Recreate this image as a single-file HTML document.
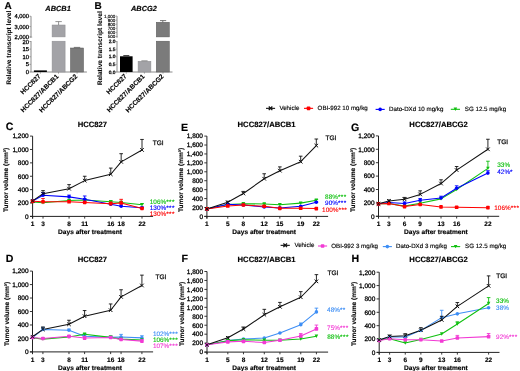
<!DOCTYPE html>
<html><head><meta charset="utf-8"><title>Figure</title>
<style>
html,body{margin:0;padding:0;background:#fff;}
body{width:520px;height:371px;overflow:hidden;}
svg{display:block;font-family:'Liberation Sans', Arial, sans-serif;text-rendering:geometricPrecision;}
</style></head>
<body>
<svg width="520" height="371" viewBox="0 0 520 371">
<rect width="520" height="371" fill="#fff"/>
<text x="4.4" y="8.7" font-size="10" font-weight="bold" stroke="#000" stroke-width="0.15" fill="#000">A</text>
<text x="45.3" y="10.6" font-size="7.4" font-weight="bold" stroke="#000" stroke-width="0.15" font-style="italic" fill="#000">ABCB1</text>
<text transform="translate(11.0 47.8) rotate(-90)" font-size="6.6" font-weight="bold" stroke="#000" stroke-width="0.05" text-anchor="middle" fill="#000">Relative transcript level</text>
<line x1="31" y1="16.2" x2="31" y2="37.3" stroke="#8a8a8a" stroke-width="1"/>
<line x1="29.8" y1="37.1" x2="32.2" y2="37.1" stroke="#8a8a8a" stroke-width="0.8"/>
<line x1="31" y1="41" x2="31" y2="72" stroke="#8a8a8a" stroke-width="1"/>
<line x1="29.4" y1="16.25" x2="31" y2="16.25" stroke="#8a8a8a" stroke-width="0.8"/>
<text x="29" y="18.35" font-size="5.8" stroke="#000" stroke-width="0.28" text-anchor="end" fill="#000">4,000</text>
<line x1="29.4" y1="26.6" x2="31" y2="26.6" stroke="#8a8a8a" stroke-width="0.8"/>
<text x="29" y="28.7" font-size="5.8" stroke="#000" stroke-width="0.28" text-anchor="end" fill="#000">3,000</text>
<line x1="29.4" y1="36.9" x2="31" y2="36.9" stroke="#8a8a8a" stroke-width="0.8"/>
<text x="29" y="39" font-size="5.8" stroke="#000" stroke-width="0.28" text-anchor="end" fill="#000">2,000</text>
<line x1="29.4" y1="41.5" x2="31" y2="41.5" stroke="#8a8a8a" stroke-width="0.8"/>
<text x="29" y="43.6" font-size="5.8" stroke="#000" stroke-width="0.28" text-anchor="end" fill="#000">20</text>
<line x1="29.4" y1="49.12" x2="31" y2="49.12" stroke="#8a8a8a" stroke-width="0.8"/>
<text x="29" y="51.23" font-size="5.8" stroke="#000" stroke-width="0.28" text-anchor="end" fill="#000">15</text>
<line x1="29.4" y1="56.75" x2="31" y2="56.75" stroke="#8a8a8a" stroke-width="0.8"/>
<text x="29" y="58.85" font-size="5.8" stroke="#000" stroke-width="0.28" text-anchor="end" fill="#000">10</text>
<line x1="29.4" y1="64.38" x2="31" y2="64.38" stroke="#8a8a8a" stroke-width="0.8"/>
<text x="29" y="66.47" font-size="5.8" stroke="#000" stroke-width="0.28" text-anchor="end" fill="#000">5</text>
<line x1="29.4" y1="72" x2="31" y2="72" stroke="#8a8a8a" stroke-width="0.8"/>
<text x="29" y="74.1" font-size="5.8" stroke="#000" stroke-width="0.28" text-anchor="end" fill="#000">0</text>
<line x1="30.5" y1="72" x2="86.9" y2="72" stroke="#8a8a8a" stroke-width="1"/>
<line x1="40.4" y1="72" x2="40.4" y2="73.6" stroke="#8a8a8a" stroke-width="0.8"/>
<line x1="58.5" y1="72" x2="58.5" y2="73.6" stroke="#8a8a8a" stroke-width="0.8"/>
<line x1="77.1" y1="72" x2="77.1" y2="73.6" stroke="#8a8a8a" stroke-width="0.8"/>
<rect x="33.9" y="70.4" width="13" height="1.6" fill="#000"/>
<rect x="52.1" y="41.2" width="13" height="30.8" fill="#a3a3a7" stroke="#8c8c90" stroke-width="0.5"/>
<rect x="52.1" y="25" width="13" height="11.9" fill="#a3a3a7" stroke="#8c8c90" stroke-width="0.5"/>
<line x1="58.6" y1="25" x2="58.6" y2="21.6" stroke="#777" stroke-width="0.8"/>
<line x1="55.4" y1="21.6" x2="61.8" y2="21.6" stroke="#777" stroke-width="0.8"/>
<rect x="70.5" y="48" width="13" height="24" fill="#7b7b7b" stroke="#555" stroke-width="0.5"/>
<line x1="73.8" y1="47.4" x2="80.2" y2="47.4" stroke="#555" stroke-width="0.8"/>
<text transform="translate(41.2 76.7) rotate(-45)" font-size="6.7" font-weight="bold" stroke="#000" stroke-width="0.12" text-anchor="end" fill="#000">HCC827</text>
<text transform="translate(59.1 76.9) rotate(-45)" font-size="6.7" font-weight="bold" stroke="#000" stroke-width="0.12" text-anchor="end" fill="#000">HCC827/ABCB1</text>
<text transform="translate(77.8 76.9) rotate(-45)" font-size="6.7" font-weight="bold" stroke="#000" stroke-width="0.12" text-anchor="end" fill="#000">HCC827/ABCG2</text>
<text x="94.6" y="8.7" font-size="10" font-weight="bold" stroke="#000" stroke-width="0.15" fill="#000">B</text>
<text x="131" y="10.6" font-size="7.4" font-weight="bold" stroke="#000" stroke-width="0.15" font-style="italic" fill="#000">ABCG2</text>
<text transform="translate(101.8 48.3) rotate(-90)" font-size="6.6" font-weight="bold" stroke="#000" stroke-width="0.05" text-anchor="middle" fill="#000">Relative transcript level</text>
<line x1="117" y1="16" x2="117" y2="37" stroke="#8a8a8a" stroke-width="1"/>
<line x1="116" y1="37" x2="118" y2="37" stroke="#8a8a8a" stroke-width="0.8"/>
<line x1="117" y1="41" x2="117" y2="72" stroke="#8a8a8a" stroke-width="1"/>
<line x1="115.7" y1="16" x2="117" y2="16" stroke="#8a8a8a" stroke-width="0.7"/>
<text x="115.3" y="17.6" font-size="4.5" stroke="#000" stroke-width="0.14" text-anchor="end" fill="#000">1,000</text>
<line x1="115.7" y1="20.12" x2="117" y2="20.12" stroke="#8a8a8a" stroke-width="0.7"/>
<text x="115.3" y="21.72" font-size="4.5" stroke="#000" stroke-width="0.14" text-anchor="end" fill="#000">900</text>
<line x1="115.7" y1="24.24" x2="117" y2="24.24" stroke="#8a8a8a" stroke-width="0.7"/>
<text x="115.3" y="25.84" font-size="4.5" stroke="#000" stroke-width="0.14" text-anchor="end" fill="#000">800</text>
<line x1="115.7" y1="28.36" x2="117" y2="28.36" stroke="#8a8a8a" stroke-width="0.7"/>
<text x="115.3" y="29.96" font-size="4.5" stroke="#000" stroke-width="0.14" text-anchor="end" fill="#000">700</text>
<line x1="115.7" y1="32.48" x2="117" y2="32.48" stroke="#8a8a8a" stroke-width="0.7"/>
<text x="115.3" y="34.08" font-size="4.5" stroke="#000" stroke-width="0.14" text-anchor="end" fill="#000">600</text>
<line x1="115.7" y1="36.6" x2="117" y2="36.6" stroke="#8a8a8a" stroke-width="0.7"/>
<text x="115.3" y="38.2" font-size="4.5" stroke="#000" stroke-width="0.14" text-anchor="end" fill="#000">500</text>
<line x1="115.7" y1="41.5" x2="117" y2="41.5" stroke="#8a8a8a" stroke-width="0.7"/>
<text x="115.3" y="43.2" font-size="4.8" stroke="#000" stroke-width="0.28" text-anchor="end" fill="#000">2.0</text>
<line x1="115.7" y1="49.12" x2="117" y2="49.12" stroke="#8a8a8a" stroke-width="0.7"/>
<text x="115.3" y="50.83" font-size="4.8" stroke="#000" stroke-width="0.28" text-anchor="end" fill="#000">1.5</text>
<line x1="115.7" y1="56.75" x2="117" y2="56.75" stroke="#8a8a8a" stroke-width="0.7"/>
<text x="115.3" y="58.45" font-size="4.8" stroke="#000" stroke-width="0.28" text-anchor="end" fill="#000">1.0</text>
<line x1="115.7" y1="64.38" x2="117" y2="64.38" stroke="#8a8a8a" stroke-width="0.7"/>
<text x="115.3" y="66.08" font-size="4.8" stroke="#000" stroke-width="0.28" text-anchor="end" fill="#000">0.5</text>
<line x1="115.7" y1="72" x2="117" y2="72" stroke="#8a8a8a" stroke-width="0.7"/>
<text x="115.3" y="73.7" font-size="4.8" stroke="#000" stroke-width="0.28" text-anchor="end" fill="#000">0.0</text>
<line x1="116.5" y1="72" x2="172.5" y2="72" stroke="#8a8a8a" stroke-width="1"/>
<line x1="126.3" y1="72" x2="126.3" y2="73.6" stroke="#8a8a8a" stroke-width="0.8"/>
<line x1="144.4" y1="72" x2="144.4" y2="73.6" stroke="#8a8a8a" stroke-width="0.8"/>
<line x1="163" y1="72" x2="163" y2="73.6" stroke="#8a8a8a" stroke-width="0.8"/>
<rect x="120" y="56.3" width="12.6" height="15.7" fill="#000"/>
<line x1="123.3" y1="55.6" x2="129.3" y2="55.6" stroke="#000" stroke-width="0.8"/>
<rect x="138.1" y="61.3" width="12.8" height="10.7" fill="#a3a3a7" stroke="#8c8c90" stroke-width="0.5"/>
<line x1="141.4" y1="60.8" x2="147.6" y2="60.8" stroke="#777" stroke-width="0.8"/>
<rect x="156.3" y="41.2" width="13" height="30.8" fill="#7b7b7b" stroke="#555" stroke-width="0.5"/>
<rect x="156.3" y="22.3" width="13" height="14.6" fill="#7b7b7b" stroke="#555" stroke-width="0.5"/>
<line x1="162.8" y1="22.3" x2="162.8" y2="20.6" stroke="#555" stroke-width="0.8"/>
<line x1="160" y1="20.6" x2="166.2" y2="20.6" stroke="#555" stroke-width="0.8"/>
<text transform="translate(127.2 76.7) rotate(-45)" font-size="6.7" font-weight="bold" stroke="#000" stroke-width="0.12" text-anchor="end" fill="#000">HCC827</text>
<text transform="translate(145.2 76.9) rotate(-45)" font-size="6.7" font-weight="bold" stroke="#000" stroke-width="0.12" text-anchor="end" fill="#000">HCC827/ABCB1</text>
<text transform="translate(164.2 76.9) rotate(-45)" font-size="6.7" font-weight="bold" stroke="#000" stroke-width="0.12" text-anchor="end" fill="#000">HCC827/ABCG2</text>
<line x1="266" y1="108.35" x2="275.1" y2="108.35" stroke="#111" stroke-width="1.1"/>
<path d="M268.75 106.55L272.35 110.15M268.75 110.15L272.35 106.55" stroke="#111" stroke-width="1.3" fill="none"/>
<text x="279.4" y="110.3" font-size="6.2" stroke="#000" stroke-width="0.14" fill="#000">Vehicle</text>
<line x1="304" y1="108.35" x2="313.1" y2="108.35" stroke="#ff0000" stroke-width="1.1"/>
<rect x="306.75" y="106.55" width="3.6" height="3.6" rx="0.7" fill="#ff0000"/>
<text x="317.6" y="110.3" font-size="6.2" stroke="#000" stroke-width="0.14" fill="#000">OBI-992 10 mg/kg</text>
<line x1="375.6" y1="109.4" x2="384.7" y2="109.4" stroke="#0000ff" stroke-width="1.1"/>
<circle cx="380.15" cy="109.4" r="1.8" fill="#0000ff"/>
<text x="389" y="111.3" font-size="6.2" stroke="#000" stroke-width="0.14" fill="#000">Dato-DXd 10 mg/kg</text>
<line x1="450.8" y1="109.3" x2="460" y2="109.3" stroke="#10c010" stroke-width="1.1"/>
<path d="M453.6 107.6L457.2 107.6L455.4 111Z" fill="#10c010"/>
<text x="464.8" y="111.3" font-size="6.2" stroke="#000" stroke-width="0.14" fill="#000">SG 12.5 mg/kg</text>
<line x1="280.6" y1="245.35" x2="289.8" y2="245.35" stroke="#111" stroke-width="1.1"/>
<path d="M283.4 243.55L287 247.15M283.4 247.15L287 243.55" stroke="#111" stroke-width="1.3" fill="none"/>
<text x="294.4" y="247.2" font-size="6.2" stroke="#000" stroke-width="0.14" fill="#000">Vehicle</text>
<line x1="318" y1="246" x2="327.1" y2="246" stroke="#f23ad4" stroke-width="1.1"/>
<rect x="320.75" y="244.2" width="3.6" height="3.6" rx="0.7" fill="#f23ad4"/>
<text x="331.2" y="247.8" font-size="6.2" stroke="#000" stroke-width="0.14" fill="#000">OBI-992 3 mg/kg</text>
<line x1="382.8" y1="246.6" x2="391.9" y2="246.6" stroke="#3d8ef5" stroke-width="1.1"/>
<circle cx="387.35" cy="246.6" r="1.8" fill="#3d8ef5"/>
<text x="396" y="248.3" font-size="6.2" stroke="#000" stroke-width="0.14" fill="#000">Dato-DXd 3 mg/kg</text>
<line x1="451" y1="246.6" x2="460.2" y2="246.6" stroke="#10c010" stroke-width="1.1"/>
<path d="M453.8 244.9L457.4 244.9L455.6 248.3Z" fill="#10c010"/>
<text x="465" y="248.3" font-size="6.2" stroke="#000" stroke-width="0.14" fill="#000">SG 12.5 mg/kg</text>
<line x1="32.6" y1="136.1" x2="32.6" y2="218.6" stroke="#222" stroke-width="1"/>
<line x1="30" y1="216.4" x2="153.1" y2="216.4" stroke="#222" stroke-width="1"/>
<line x1="30" y1="216.4" x2="32.6" y2="216.4" stroke="#222" stroke-width="0.9"/>
<text x="28.7" y="218.7" font-size="6.5" stroke="#000" stroke-width="0.28" text-anchor="end" fill="#000">0</text>
<line x1="30" y1="203.02" x2="32.6" y2="203.02" stroke="#222" stroke-width="0.9"/>
<text x="28.7" y="205.32" font-size="6.5" stroke="#000" stroke-width="0.28" text-anchor="end" fill="#000">200</text>
<line x1="30" y1="189.63" x2="32.6" y2="189.63" stroke="#222" stroke-width="0.9"/>
<text x="28.7" y="191.93" font-size="6.5" stroke="#000" stroke-width="0.28" text-anchor="end" fill="#000">400</text>
<line x1="30" y1="176.25" x2="32.6" y2="176.25" stroke="#222" stroke-width="0.9"/>
<text x="28.7" y="178.55" font-size="6.5" stroke="#000" stroke-width="0.28" text-anchor="end" fill="#000">600</text>
<line x1="30" y1="162.87" x2="32.6" y2="162.87" stroke="#222" stroke-width="0.9"/>
<text x="28.7" y="165.17" font-size="6.5" stroke="#000" stroke-width="0.28" text-anchor="end" fill="#000">800</text>
<line x1="30" y1="149.48" x2="32.6" y2="149.48" stroke="#222" stroke-width="0.9"/>
<text x="28.7" y="151.78" font-size="6.5" stroke="#000" stroke-width="0.28" text-anchor="end" fill="#000">1,000</text>
<line x1="30" y1="136.1" x2="32.6" y2="136.1" stroke="#222" stroke-width="0.9"/>
<text x="28.7" y="138.4" font-size="6.5" stroke="#000" stroke-width="0.28" text-anchor="end" fill="#000">1,200</text>
<line x1="32.6" y1="216.4" x2="32.6" y2="218.6" stroke="#222" stroke-width="0.9"/>
<text x="32.6" y="226.4" font-size="6.5" font-weight="bold" stroke="#000" stroke-width="0.15" text-anchor="middle" fill="#000">1</text>
<line x1="43.02" y1="216.4" x2="43.02" y2="218.6" stroke="#222" stroke-width="0.9"/>
<text x="43.02" y="226.4" font-size="6.5" font-weight="bold" stroke="#000" stroke-width="0.15" text-anchor="middle" fill="#000">3</text>
<line x1="69.07" y1="216.4" x2="69.07" y2="218.6" stroke="#222" stroke-width="0.9"/>
<text x="69.07" y="226.4" font-size="6.5" font-weight="bold" stroke="#000" stroke-width="0.15" text-anchor="middle" fill="#000">8</text>
<line x1="84.7" y1="216.4" x2="84.7" y2="218.6" stroke="#222" stroke-width="0.9"/>
<text x="84.7" y="226.4" font-size="6.5" font-weight="bold" stroke="#000" stroke-width="0.15" text-anchor="middle" fill="#000">11</text>
<line x1="110.75" y1="216.4" x2="110.75" y2="218.6" stroke="#222" stroke-width="0.9"/>
<text x="110.75" y="226.4" font-size="6.5" font-weight="bold" stroke="#000" stroke-width="0.15" text-anchor="middle" fill="#000">16</text>
<line x1="121.17" y1="216.4" x2="121.17" y2="218.6" stroke="#222" stroke-width="0.9"/>
<text x="121.17" y="226.4" font-size="6.5" font-weight="bold" stroke="#000" stroke-width="0.15" text-anchor="middle" fill="#000">18</text>
<line x1="142.01" y1="216.4" x2="142.01" y2="218.6" stroke="#222" stroke-width="0.9"/>
<text x="142.01" y="226.4" font-size="6.5" font-weight="bold" stroke="#000" stroke-width="0.15" text-anchor="middle" fill="#000">22</text>
<text x="58.1" y="234" font-size="6.6" font-weight="bold" stroke="#000" stroke-width="0.15" fill="#000">Days after treatment</text>
<text transform="translate(8 180) rotate(-90)" font-size="6.5" font-weight="bold" stroke="#000" stroke-width="0.15" text-anchor="middle" fill="#000">Tumor volume (mm³)</text>
<text x="92.4" y="126.8" font-size="7.7" font-weight="bold" stroke="#000" stroke-width="0.15" text-anchor="middle" fill="#000">HCC827</text>
<text x="5.8" y="130.1" font-size="10.6" font-weight="bold" stroke="#000" stroke-width="0.15" fill="#000">C</text>
<text x="152.8" y="145.3" font-size="6.5" stroke="#111" stroke-width="0.28" fill="#111">TGI</text>
<polyline points="32.6,202.01 43.02,202.68 69.07,200.54 84.7,199.94 110.75,201.81 121.17,202.41 142.01,204.69" fill="none" stroke="#10c010" stroke-width="1.05" stroke-linejoin="round"/>
<polyline points="32.6,201.01 43.02,195.19 69.07,196.86 84.7,199.34 110.75,204.29 121.17,206.16 142.01,207.83" fill="none" stroke="#0000ff" stroke-width="1.05" stroke-linejoin="round"/>
<polyline points="32.6,201.34 43.02,201.81 69.07,201.81 84.7,202.48 110.75,203.69 121.17,203.02 142.01,208.44" fill="none" stroke="#ff0000" stroke-width="1.05" stroke-linejoin="round"/>
<polyline points="32.6,200.88 43.02,193.65 69.07,188.7 84.7,180.6 110.75,174.24 121.17,161.86 142.01,149.95" fill="none" stroke="#111" stroke-width="1.05" stroke-linejoin="round"/>
<path d="M30.8 200.31L34.4 200.31L32.6 203.71Z" fill="#10c010"/>
<path d="M41.22 200.98L44.82 200.98L43.02 204.38Z" fill="#10c010"/>
<line x1="69.07" y1="200.54" x2="69.07" y2="199.67" stroke="#10c010" stroke-width="0.9"/>
<line x1="67.27" y1="199.67" x2="70.87" y2="199.67" stroke="#10c010" stroke-width="0.9"/>
<path d="M67.27 198.84L70.87 198.84L69.07 202.24Z" fill="#10c010"/>
<line x1="84.7" y1="199.94" x2="84.7" y2="198.87" stroke="#10c010" stroke-width="0.9"/>
<line x1="82.9" y1="198.87" x2="86.5" y2="198.87" stroke="#10c010" stroke-width="0.9"/>
<path d="M82.9 198.24L86.5 198.24L84.7 201.64Z" fill="#10c010"/>
<line x1="110.75" y1="201.81" x2="110.75" y2="200.67" stroke="#10c010" stroke-width="0.9"/>
<line x1="108.95" y1="200.67" x2="112.55" y2="200.67" stroke="#10c010" stroke-width="0.9"/>
<path d="M108.95 200.11L112.55 200.11L110.75 203.51Z" fill="#10c010"/>
<line x1="121.17" y1="202.41" x2="121.17" y2="201.54" stroke="#10c010" stroke-width="0.9"/>
<line x1="119.37" y1="201.54" x2="122.97" y2="201.54" stroke="#10c010" stroke-width="0.9"/>
<path d="M119.37 200.71L122.97 200.71L121.17 204.11Z" fill="#10c010"/>
<line x1="142.01" y1="204.69" x2="142.01" y2="203.69" stroke="#10c010" stroke-width="0.9"/>
<line x1="140.21" y1="203.69" x2="143.81" y2="203.69" stroke="#10c010" stroke-width="0.9"/>
<path d="M140.21 202.99L143.81 202.99L142.01 206.39Z" fill="#10c010"/>
<circle cx="32.6" cy="201.01" r="1.8" fill="#0000ff"/>
<line x1="43.02" y1="195.19" x2="43.02" y2="192.64" stroke="#0000ff" stroke-width="0.9"/>
<line x1="41.22" y1="192.64" x2="44.82" y2="192.64" stroke="#0000ff" stroke-width="0.9"/>
<circle cx="43.02" cy="195.19" r="1.8" fill="#0000ff"/>
<line x1="69.07" y1="196.86" x2="69.07" y2="195.12" stroke="#0000ff" stroke-width="0.9"/>
<line x1="67.27" y1="195.12" x2="70.87" y2="195.12" stroke="#0000ff" stroke-width="0.9"/>
<circle cx="69.07" cy="196.86" r="1.8" fill="#0000ff"/>
<line x1="84.7" y1="199.34" x2="84.7" y2="195.99" stroke="#0000ff" stroke-width="0.9"/>
<line x1="82.9" y1="195.99" x2="86.5" y2="195.99" stroke="#0000ff" stroke-width="0.9"/>
<circle cx="84.7" cy="199.34" r="1.8" fill="#0000ff"/>
<line x1="110.75" y1="204.29" x2="110.75" y2="203.02" stroke="#0000ff" stroke-width="0.9"/>
<line x1="108.95" y1="203.02" x2="112.55" y2="203.02" stroke="#0000ff" stroke-width="0.9"/>
<circle cx="110.75" cy="204.29" r="1.8" fill="#0000ff"/>
<line x1="121.17" y1="206.16" x2="121.17" y2="205.02" stroke="#0000ff" stroke-width="0.9"/>
<line x1="119.37" y1="205.02" x2="122.97" y2="205.02" stroke="#0000ff" stroke-width="0.9"/>
<circle cx="121.17" cy="206.16" r="1.8" fill="#0000ff"/>
<line x1="142.01" y1="207.83" x2="142.01" y2="207.03" stroke="#0000ff" stroke-width="0.9"/>
<line x1="140.21" y1="207.03" x2="143.81" y2="207.03" stroke="#0000ff" stroke-width="0.9"/>
<circle cx="142.01" cy="207.83" r="1.8" fill="#0000ff"/>
<rect x="30.8" y="199.54" width="3.6" height="3.6" rx="0.7" fill="#ff0000"/>
<line x1="43.02" y1="201.81" x2="43.02" y2="198.47" stroke="#ff0000" stroke-width="0.9"/>
<line x1="41.22" y1="198.47" x2="44.82" y2="198.47" stroke="#ff0000" stroke-width="0.9"/>
<rect x="41.22" y="200.01" width="3.6" height="3.6" rx="0.7" fill="#ff0000"/>
<line x1="69.07" y1="201.81" x2="69.07" y2="200.67" stroke="#ff0000" stroke-width="0.9"/>
<line x1="67.27" y1="200.67" x2="70.87" y2="200.67" stroke="#ff0000" stroke-width="0.9"/>
<rect x="67.27" y="200.01" width="3.6" height="3.6" rx="0.7" fill="#ff0000"/>
<line x1="84.7" y1="202.48" x2="84.7" y2="201.34" stroke="#ff0000" stroke-width="0.9"/>
<line x1="82.9" y1="201.34" x2="86.5" y2="201.34" stroke="#ff0000" stroke-width="0.9"/>
<rect x="82.9" y="200.68" width="3.6" height="3.6" rx="0.7" fill="#ff0000"/>
<line x1="110.75" y1="203.69" x2="110.75" y2="202.01" stroke="#ff0000" stroke-width="0.9"/>
<line x1="108.95" y1="202.01" x2="112.55" y2="202.01" stroke="#ff0000" stroke-width="0.9"/>
<rect x="108.95" y="201.89" width="3.6" height="3.6" rx="0.7" fill="#ff0000"/>
<line x1="121.17" y1="203.02" x2="121.17" y2="199.34" stroke="#ff0000" stroke-width="0.9"/>
<line x1="119.37" y1="199.34" x2="122.97" y2="199.34" stroke="#ff0000" stroke-width="0.9"/>
<rect x="119.37" y="201.22" width="3.6" height="3.6" rx="0.7" fill="#ff0000"/>
<line x1="142.01" y1="208.44" x2="142.01" y2="207.37" stroke="#ff0000" stroke-width="0.9"/>
<line x1="140.21" y1="207.37" x2="143.81" y2="207.37" stroke="#ff0000" stroke-width="0.9"/>
<rect x="140.21" y="206.64" width="3.6" height="3.6" rx="0.7" fill="#ff0000"/>
<path d="M30.8 199.08L34.4 202.68M30.8 202.68L34.4 199.08" stroke="#111" stroke-width="1" fill="none"/>
<line x1="43.02" y1="193.65" x2="43.02" y2="190.64" stroke="#111" stroke-width="0.9"/>
<line x1="41.22" y1="190.64" x2="44.82" y2="190.64" stroke="#111" stroke-width="0.9"/>
<path d="M41.22 191.85L44.82 195.45M41.22 195.45L44.82 191.85" stroke="#111" stroke-width="1" fill="none"/>
<line x1="69.07" y1="188.7" x2="69.07" y2="184.61" stroke="#111" stroke-width="0.9"/>
<line x1="67.27" y1="184.61" x2="70.87" y2="184.61" stroke="#111" stroke-width="0.9"/>
<path d="M67.27 186.9L70.87 190.5M67.27 190.5L70.87 186.9" stroke="#111" stroke-width="1" fill="none"/>
<line x1="84.7" y1="180.6" x2="84.7" y2="176.25" stroke="#111" stroke-width="0.9"/>
<line x1="82.9" y1="176.25" x2="86.5" y2="176.25" stroke="#111" stroke-width="0.9"/>
<path d="M82.9 178.8L86.5 182.4M82.9 182.4L86.5 178.8" stroke="#111" stroke-width="1" fill="none"/>
<line x1="110.75" y1="174.24" x2="110.75" y2="168.09" stroke="#111" stroke-width="0.9"/>
<line x1="108.95" y1="168.09" x2="112.55" y2="168.09" stroke="#111" stroke-width="0.9"/>
<path d="M108.95 172.44L112.55 176.04M108.95 176.04L112.55 172.44" stroke="#111" stroke-width="1" fill="none"/>
<line x1="121.17" y1="161.86" x2="121.17" y2="153.7" stroke="#111" stroke-width="0.9"/>
<line x1="119.37" y1="153.7" x2="122.97" y2="153.7" stroke="#111" stroke-width="0.9"/>
<path d="M119.37 160.06L122.97 163.66M119.37 163.66L122.97 160.06" stroke="#111" stroke-width="1" fill="none"/>
<line x1="142.01" y1="149.95" x2="142.01" y2="139.45" stroke="#111" stroke-width="0.9"/>
<line x1="140.21" y1="139.45" x2="143.81" y2="139.45" stroke="#111" stroke-width="0.9"/>
<path d="M140.21 148.15L143.81 151.75M140.21 151.75L143.81 148.15" stroke="#111" stroke-width="1" fill="none"/>
<text x="149.8" y="204" font-size="6.4" fill="#10c010" stroke="#10c010" stroke-width="0.12">106%<tspan font-size="6.3" letter-spacing="0.5">***</tspan></text>
<text x="149.8" y="210" font-size="6.4" fill="#0000ff" stroke="#0000ff" stroke-width="0.12">130%<tspan font-size="6.3" letter-spacing="0.5">***</tspan></text>
<text x="149.8" y="215.9" font-size="6.4" fill="#ff0000" stroke="#ff0000" stroke-width="0.12">130%<tspan font-size="6.3" letter-spacing="0.5">***</tspan></text>
<line x1="206.9" y1="136.1" x2="206.9" y2="218.6" stroke="#222" stroke-width="1"/>
<line x1="204.3" y1="216.4" x2="328.1" y2="216.4" stroke="#222" stroke-width="1"/>
<line x1="204.3" y1="216.4" x2="206.9" y2="216.4" stroke="#222" stroke-width="0.9"/>
<text x="203" y="218.7" font-size="6.5" stroke="#000" stroke-width="0.28" text-anchor="end" fill="#000">0</text>
<line x1="204.3" y1="207.48" x2="206.9" y2="207.48" stroke="#222" stroke-width="0.9"/>
<text x="203" y="209.78" font-size="6.5" stroke="#000" stroke-width="0.28" text-anchor="end" fill="#000">200</text>
<line x1="204.3" y1="198.56" x2="206.9" y2="198.56" stroke="#222" stroke-width="0.9"/>
<text x="203" y="200.86" font-size="6.5" stroke="#000" stroke-width="0.28" text-anchor="end" fill="#000">400</text>
<line x1="204.3" y1="189.63" x2="206.9" y2="189.63" stroke="#222" stroke-width="0.9"/>
<text x="203" y="191.93" font-size="6.5" stroke="#000" stroke-width="0.28" text-anchor="end" fill="#000">600</text>
<line x1="204.3" y1="180.71" x2="206.9" y2="180.71" stroke="#222" stroke-width="0.9"/>
<text x="203" y="183.01" font-size="6.5" stroke="#000" stroke-width="0.28" text-anchor="end" fill="#000">800</text>
<line x1="204.3" y1="171.79" x2="206.9" y2="171.79" stroke="#222" stroke-width="0.9"/>
<text x="203" y="174.09" font-size="6.5" stroke="#000" stroke-width="0.28" text-anchor="end" fill="#000">1,000</text>
<line x1="204.3" y1="162.87" x2="206.9" y2="162.87" stroke="#222" stroke-width="0.9"/>
<text x="203" y="165.17" font-size="6.5" stroke="#000" stroke-width="0.28" text-anchor="end" fill="#000">1,200</text>
<line x1="204.3" y1="153.94" x2="206.9" y2="153.94" stroke="#222" stroke-width="0.9"/>
<text x="203" y="156.24" font-size="6.5" stroke="#000" stroke-width="0.28" text-anchor="end" fill="#000">1,400</text>
<line x1="204.3" y1="145.02" x2="206.9" y2="145.02" stroke="#222" stroke-width="0.9"/>
<text x="203" y="147.32" font-size="6.5" stroke="#000" stroke-width="0.28" text-anchor="end" fill="#000">1,600</text>
<line x1="204.3" y1="136.1" x2="206.9" y2="136.1" stroke="#222" stroke-width="0.9"/>
<text x="203" y="138.4" font-size="6.5" stroke="#000" stroke-width="0.28" text-anchor="end" fill="#000">1,800</text>
<line x1="206.9" y1="216.4" x2="206.9" y2="218.6" stroke="#222" stroke-width="0.9"/>
<text x="206.9" y="226.4" font-size="6.5" font-weight="bold" stroke="#000" stroke-width="0.15" text-anchor="middle" fill="#000">1</text>
<line x1="227.74" y1="216.4" x2="227.74" y2="218.6" stroke="#222" stroke-width="0.9"/>
<text x="227.74" y="226.4" font-size="6.5" font-weight="bold" stroke="#000" stroke-width="0.15" text-anchor="middle" fill="#000">5</text>
<line x1="243.37" y1="216.4" x2="243.37" y2="218.6" stroke="#222" stroke-width="0.9"/>
<text x="243.37" y="226.4" font-size="6.5" font-weight="bold" stroke="#000" stroke-width="0.15" text-anchor="middle" fill="#000">8</text>
<line x1="264.21" y1="216.4" x2="264.21" y2="218.6" stroke="#222" stroke-width="0.9"/>
<text x="264.21" y="226.4" font-size="6.5" font-weight="bold" stroke="#000" stroke-width="0.15" text-anchor="middle" fill="#000">12</text>
<line x1="279.84" y1="216.4" x2="279.84" y2="218.6" stroke="#222" stroke-width="0.9"/>
<text x="279.84" y="226.4" font-size="6.5" font-weight="bold" stroke="#000" stroke-width="0.15" text-anchor="middle" fill="#000">15</text>
<line x1="300.68" y1="216.4" x2="300.68" y2="218.6" stroke="#222" stroke-width="0.9"/>
<text x="300.68" y="226.4" font-size="6.5" font-weight="bold" stroke="#000" stroke-width="0.15" text-anchor="middle" fill="#000">19</text>
<line x1="316.31" y1="216.4" x2="316.31" y2="218.6" stroke="#222" stroke-width="0.9"/>
<text x="316.31" y="226.4" font-size="6.5" font-weight="bold" stroke="#000" stroke-width="0.15" text-anchor="middle" fill="#000">22</text>
<text x="232.3" y="234" font-size="6.6" font-weight="bold" stroke="#000" stroke-width="0.15" fill="#000">Days after treatment</text>
<text transform="translate(183 180) rotate(-90)" font-size="6.5" font-weight="bold" stroke="#000" stroke-width="0.15" text-anchor="middle" fill="#000">Tumor volume (mm³)</text>
<text x="266.6" y="126.8" font-size="7.7" font-weight="bold" stroke="#000" stroke-width="0.15" text-anchor="middle" fill="#000">HCC827/ABCB1</text>
<text x="180.9" y="130.5" font-size="10.6" font-weight="bold" stroke="#000" stroke-width="0.15" fill="#000">E</text>
<text x="325.6" y="140.3" font-size="6.5" stroke="#111" stroke-width="0.28" fill="#111">TGI</text>
<polyline points="206.9,208.91 227.74,204.58 243.37,203.69 264.21,204 279.84,204.71 300.68,203.11 316.31,200.25" fill="none" stroke="#10c010" stroke-width="1.05" stroke-linejoin="round"/>
<polyline points="206.9,208.91 227.74,204.22 243.37,205.02 264.21,207.03 279.84,207.92 300.68,206.23 316.31,202.26" fill="none" stroke="#0000ff" stroke-width="1.05" stroke-linejoin="round"/>
<polyline points="206.9,208.91 227.74,206.05 243.37,205.02 264.21,206.32 279.84,208.33 300.68,208.28 316.31,208.59" fill="none" stroke="#ff0000" stroke-width="1.05" stroke-linejoin="round"/>
<polyline points="206.9,208.91 227.74,202.3 243.37,193.51 264.21,178.75 279.84,170.67 300.68,161.71 316.31,145.6" fill="none" stroke="#111" stroke-width="1.05" stroke-linejoin="round"/>
<path d="M205.1 207.21L208.7 207.21L206.9 210.61Z" fill="#10c010"/>
<line x1="227.74" y1="204.58" x2="227.74" y2="203.91" stroke="#10c010" stroke-width="0.9"/>
<line x1="225.94" y1="203.91" x2="229.54" y2="203.91" stroke="#10c010" stroke-width="0.9"/>
<path d="M225.94 202.88L229.54 202.88L227.74 206.28Z" fill="#10c010"/>
<line x1="243.37" y1="203.69" x2="243.37" y2="203.02" stroke="#10c010" stroke-width="0.9"/>
<line x1="241.57" y1="203.02" x2="245.17" y2="203.02" stroke="#10c010" stroke-width="0.9"/>
<path d="M241.57 201.99L245.17 201.99L243.37 205.39Z" fill="#10c010"/>
<line x1="264.21" y1="204" x2="264.21" y2="203.37" stroke="#10c010" stroke-width="0.9"/>
<line x1="262.41" y1="203.37" x2="266.01" y2="203.37" stroke="#10c010" stroke-width="0.9"/>
<path d="M262.41 202.3L266.01 202.3L264.21 205.7Z" fill="#10c010"/>
<line x1="279.84" y1="204.71" x2="279.84" y2="204.09" stroke="#10c010" stroke-width="0.9"/>
<line x1="278.04" y1="204.09" x2="281.64" y2="204.09" stroke="#10c010" stroke-width="0.9"/>
<path d="M278.04 203.01L281.64 203.01L279.84 206.41Z" fill="#10c010"/>
<line x1="300.68" y1="203.11" x2="300.68" y2="202.48" stroke="#10c010" stroke-width="0.9"/>
<line x1="298.88" y1="202.48" x2="302.48" y2="202.48" stroke="#10c010" stroke-width="0.9"/>
<path d="M298.88 201.41L302.48 201.41L300.68 204.81Z" fill="#10c010"/>
<line x1="316.31" y1="200.25" x2="316.31" y2="199.54" stroke="#10c010" stroke-width="0.9"/>
<line x1="314.51" y1="199.54" x2="318.11" y2="199.54" stroke="#10c010" stroke-width="0.9"/>
<path d="M314.51 198.55L318.11 198.55L316.31 201.95Z" fill="#10c010"/>
<circle cx="206.9" cy="208.91" r="1.8" fill="#0000ff"/>
<line x1="227.74" y1="204.22" x2="227.74" y2="203.69" stroke="#0000ff" stroke-width="0.9"/>
<line x1="225.94" y1="203.69" x2="229.54" y2="203.69" stroke="#0000ff" stroke-width="0.9"/>
<circle cx="227.74" cy="204.22" r="1.8" fill="#0000ff"/>
<circle cx="243.37" cy="205.02" r="1.8" fill="#0000ff"/>
<circle cx="264.21" cy="207.03" r="1.8" fill="#0000ff"/>
<circle cx="279.84" cy="207.92" r="1.8" fill="#0000ff"/>
<circle cx="300.68" cy="206.23" r="1.8" fill="#0000ff"/>
<line x1="316.31" y1="202.26" x2="316.31" y2="201.46" stroke="#0000ff" stroke-width="0.9"/>
<line x1="314.51" y1="201.46" x2="318.11" y2="201.46" stroke="#0000ff" stroke-width="0.9"/>
<circle cx="316.31" cy="202.26" r="1.8" fill="#0000ff"/>
<rect x="205.1" y="207.11" width="3.6" height="3.6" rx="0.7" fill="#ff0000"/>
<line x1="227.74" y1="206.05" x2="227.74" y2="205.25" stroke="#ff0000" stroke-width="0.9"/>
<line x1="225.94" y1="205.25" x2="229.54" y2="205.25" stroke="#ff0000" stroke-width="0.9"/>
<rect x="225.94" y="204.25" width="3.6" height="3.6" rx="0.7" fill="#ff0000"/>
<line x1="243.37" y1="205.02" x2="243.37" y2="204.36" stroke="#ff0000" stroke-width="0.9"/>
<line x1="241.57" y1="204.36" x2="245.17" y2="204.36" stroke="#ff0000" stroke-width="0.9"/>
<rect x="241.57" y="203.22" width="3.6" height="3.6" rx="0.7" fill="#ff0000"/>
<line x1="264.21" y1="206.32" x2="264.21" y2="205.69" stroke="#ff0000" stroke-width="0.9"/>
<line x1="262.41" y1="205.69" x2="266.01" y2="205.69" stroke="#ff0000" stroke-width="0.9"/>
<rect x="262.41" y="204.52" width="3.6" height="3.6" rx="0.7" fill="#ff0000"/>
<rect x="278.04" y="206.53" width="3.6" height="3.6" rx="0.7" fill="#ff0000"/>
<rect x="298.88" y="206.48" width="3.6" height="3.6" rx="0.7" fill="#ff0000"/>
<rect x="314.51" y="206.79" width="3.6" height="3.6" rx="0.7" fill="#ff0000"/>
<path d="M205.1 207.11L208.7 210.71M205.1 210.71L208.7 207.11" stroke="#111" stroke-width="1" fill="none"/>
<line x1="227.74" y1="202.3" x2="227.74" y2="201.23" stroke="#111" stroke-width="0.9"/>
<line x1="225.94" y1="201.23" x2="229.54" y2="201.23" stroke="#111" stroke-width="0.9"/>
<path d="M225.94 200.5L229.54 204.1M225.94 204.1L229.54 200.5" stroke="#111" stroke-width="1" fill="none"/>
<line x1="243.37" y1="193.51" x2="243.37" y2="191.42" stroke="#111" stroke-width="0.9"/>
<line x1="241.57" y1="191.42" x2="245.17" y2="191.42" stroke="#111" stroke-width="0.9"/>
<path d="M241.57 191.71L245.17 195.31M241.57 195.31L245.17 191.71" stroke="#111" stroke-width="1" fill="none"/>
<line x1="264.21" y1="178.75" x2="264.21" y2="173.75" stroke="#111" stroke-width="0.9"/>
<line x1="262.41" y1="173.75" x2="266.01" y2="173.75" stroke="#111" stroke-width="0.9"/>
<path d="M262.41 176.95L266.01 180.55M262.41 180.55L266.01 176.95" stroke="#111" stroke-width="1" fill="none"/>
<line x1="279.84" y1="170.67" x2="279.84" y2="166.88" stroke="#111" stroke-width="0.9"/>
<line x1="278.04" y1="166.88" x2="281.64" y2="166.88" stroke="#111" stroke-width="0.9"/>
<path d="M278.04 168.87L281.64 172.47M278.04 172.47L281.64 168.87" stroke="#111" stroke-width="1" fill="none"/>
<line x1="300.68" y1="161.71" x2="300.68" y2="156.18" stroke="#111" stroke-width="0.9"/>
<line x1="298.88" y1="156.18" x2="302.48" y2="156.18" stroke="#111" stroke-width="0.9"/>
<path d="M298.88 159.91L302.48 163.51M298.88 163.51L302.48 159.91" stroke="#111" stroke-width="1" fill="none"/>
<line x1="316.31" y1="145.6" x2="316.31" y2="139" stroke="#111" stroke-width="0.9"/>
<line x1="314.51" y1="139" x2="318.11" y2="139" stroke="#111" stroke-width="0.9"/>
<path d="M314.51 143.8L318.11 147.4M314.51 147.4L318.11 143.8" stroke="#111" stroke-width="1" fill="none"/>
<text x="325.1" y="198.8" font-size="6.4" fill="#10c010" stroke="#10c010" stroke-width="0.12">88%<tspan font-size="6.3" letter-spacing="0.5">***</tspan></text>
<text x="325.1" y="204.8" font-size="6.4" fill="#0000ff" stroke="#0000ff" stroke-width="0.12">90%<tspan font-size="6.3" letter-spacing="0.5">***</tspan></text>
<text x="322.1" y="211.7" font-size="6.4" fill="#ff0000" stroke="#ff0000" stroke-width="0.12">100%<tspan font-size="6.3" letter-spacing="0.5">***</tspan></text>
<line x1="378.5" y1="135.9" x2="378.5" y2="218.5" stroke="#222" stroke-width="1"/>
<line x1="375.9" y1="216.3" x2="499.2" y2="216.3" stroke="#222" stroke-width="1"/>
<line x1="375.9" y1="216.3" x2="378.5" y2="216.3" stroke="#222" stroke-width="0.9"/>
<text x="374.6" y="218.6" font-size="6.5" stroke="#000" stroke-width="0.28" text-anchor="end" fill="#000">0</text>
<line x1="375.9" y1="202.9" x2="378.5" y2="202.9" stroke="#222" stroke-width="0.9"/>
<text x="374.6" y="205.2" font-size="6.5" stroke="#000" stroke-width="0.28" text-anchor="end" fill="#000">200</text>
<line x1="375.9" y1="189.5" x2="378.5" y2="189.5" stroke="#222" stroke-width="0.9"/>
<text x="374.6" y="191.8" font-size="6.5" stroke="#000" stroke-width="0.28" text-anchor="end" fill="#000">400</text>
<line x1="375.9" y1="176.1" x2="378.5" y2="176.1" stroke="#222" stroke-width="0.9"/>
<text x="374.6" y="178.4" font-size="6.5" stroke="#000" stroke-width="0.28" text-anchor="end" fill="#000">600</text>
<line x1="375.9" y1="162.7" x2="378.5" y2="162.7" stroke="#222" stroke-width="0.9"/>
<text x="374.6" y="165" font-size="6.5" stroke="#000" stroke-width="0.28" text-anchor="end" fill="#000">800</text>
<line x1="375.9" y1="149.3" x2="378.5" y2="149.3" stroke="#222" stroke-width="0.9"/>
<text x="374.6" y="151.6" font-size="6.5" stroke="#000" stroke-width="0.28" text-anchor="end" fill="#000">1,000</text>
<line x1="375.9" y1="135.9" x2="378.5" y2="135.9" stroke="#222" stroke-width="0.9"/>
<text x="374.6" y="138.2" font-size="6.5" stroke="#000" stroke-width="0.28" text-anchor="end" fill="#000">1,200</text>
<line x1="378.5" y1="216.3" x2="378.5" y2="218.5" stroke="#222" stroke-width="0.9"/>
<text x="378.5" y="226.3" font-size="6.5" font-weight="bold" stroke="#000" stroke-width="0.15" text-anchor="middle" fill="#000">1</text>
<line x1="388.92" y1="216.3" x2="388.92" y2="218.5" stroke="#222" stroke-width="0.9"/>
<text x="388.92" y="226.3" font-size="6.5" font-weight="bold" stroke="#000" stroke-width="0.15" text-anchor="middle" fill="#000">3</text>
<line x1="404.55" y1="216.3" x2="404.55" y2="218.5" stroke="#222" stroke-width="0.9"/>
<text x="404.55" y="226.3" font-size="6.5" font-weight="bold" stroke="#000" stroke-width="0.15" text-anchor="middle" fill="#000">6</text>
<line x1="420.18" y1="216.3" x2="420.18" y2="218.5" stroke="#222" stroke-width="0.9"/>
<text x="420.18" y="226.3" font-size="6.5" font-weight="bold" stroke="#000" stroke-width="0.15" text-anchor="middle" fill="#000">9</text>
<line x1="441.02" y1="216.3" x2="441.02" y2="218.5" stroke="#222" stroke-width="0.9"/>
<text x="441.02" y="226.3" font-size="6.5" font-weight="bold" stroke="#000" stroke-width="0.15" text-anchor="middle" fill="#000">13</text>
<line x1="456.65" y1="216.3" x2="456.65" y2="218.5" stroke="#222" stroke-width="0.9"/>
<text x="456.65" y="226.3" font-size="6.5" font-weight="bold" stroke="#000" stroke-width="0.15" text-anchor="middle" fill="#000">16</text>
<line x1="487.91" y1="216.3" x2="487.91" y2="218.5" stroke="#222" stroke-width="0.9"/>
<text x="487.91" y="226.3" font-size="6.5" font-weight="bold" stroke="#000" stroke-width="0.15" text-anchor="middle" fill="#000">22</text>
<text x="404" y="233.9" font-size="6.6" font-weight="bold" stroke="#000" stroke-width="0.15" fill="#000">Days after treatment</text>
<text transform="translate(354.5 180) rotate(-90)" font-size="6.5" font-weight="bold" stroke="#000" stroke-width="0.15" text-anchor="middle" fill="#000">Tumor volume (mm³)</text>
<text x="438.6" y="126.8" font-size="7.7" font-weight="bold" stroke="#000" stroke-width="0.15" text-anchor="middle" fill="#000">HCC827/ABCG2</text>
<text x="350.9" y="130.5" font-size="10.6" font-weight="bold" stroke="#000" stroke-width="0.15" fill="#000">G</text>
<text x="497.3" y="143.6" font-size="6.5" stroke="#111" stroke-width="0.28" fill="#111">TGI</text>
<polyline points="378.5,203.84 388.92,203.57 404.55,206.12 420.18,203.24 441.02,198.88 456.65,189.5 487.91,168.4" fill="none" stroke="#10c010" stroke-width="1.05" stroke-linejoin="round"/>
<polyline points="378.5,203.84 388.92,202.56 404.55,203.44 420.18,200.22 441.02,197.94 456.65,188.23 487.91,173.09" fill="none" stroke="#0000ff" stroke-width="1.05" stroke-linejoin="round"/>
<polyline points="378.5,203.84 388.92,203.57 404.55,206.59 420.18,204.44 441.02,206.92 456.65,207.32 487.91,207.66" fill="none" stroke="#ff0000" stroke-width="1.05" stroke-linejoin="round"/>
<polyline points="378.5,203.84 388.92,201.02 404.55,199.28 420.18,194.39 441.02,183.54 456.65,170.07 487.91,149.3" fill="none" stroke="#111" stroke-width="1.05" stroke-linejoin="round"/>
<path d="M376.7 202.14L380.3 202.14L378.5 205.54Z" fill="#10c010"/>
<path d="M387.12 201.87L390.72 201.87L388.92 205.27Z" fill="#10c010"/>
<path d="M402.75 204.42L406.35 204.42L404.55 207.82Z" fill="#10c010"/>
<path d="M418.38 201.54L421.98 201.54L420.18 204.94Z" fill="#10c010"/>
<line x1="441.02" y1="198.88" x2="441.02" y2="197.88" stroke="#10c010" stroke-width="0.9"/>
<line x1="439.22" y1="197.88" x2="442.82" y2="197.88" stroke="#10c010" stroke-width="0.9"/>
<path d="M439.22 197.18L442.82 197.18L441.02 200.58Z" fill="#10c010"/>
<line x1="456.65" y1="189.5" x2="456.65" y2="188.16" stroke="#10c010" stroke-width="0.9"/>
<line x1="454.85" y1="188.16" x2="458.45" y2="188.16" stroke="#10c010" stroke-width="0.9"/>
<path d="M454.85 187.8L458.45 187.8L456.65 191.2Z" fill="#10c010"/>
<line x1="487.91" y1="168.4" x2="487.91" y2="161.23" stroke="#10c010" stroke-width="0.9"/>
<line x1="486.11" y1="161.23" x2="489.71" y2="161.23" stroke="#10c010" stroke-width="0.9"/>
<path d="M486.11 166.7L489.71 166.7L487.91 170.09Z" fill="#10c010"/>
<circle cx="378.5" cy="203.84" r="1.8" fill="#0000ff"/>
<circle cx="388.92" cy="202.56" r="1.8" fill="#0000ff"/>
<line x1="404.55" y1="203.44" x2="404.55" y2="201.9" stroke="#0000ff" stroke-width="0.9"/>
<line x1="402.75" y1="201.9" x2="406.35" y2="201.9" stroke="#0000ff" stroke-width="0.9"/>
<circle cx="404.55" cy="203.44" r="1.8" fill="#0000ff"/>
<line x1="420.18" y1="200.22" x2="420.18" y2="198.48" stroke="#0000ff" stroke-width="0.9"/>
<line x1="418.38" y1="198.48" x2="421.98" y2="198.48" stroke="#0000ff" stroke-width="0.9"/>
<circle cx="420.18" cy="200.22" r="1.8" fill="#0000ff"/>
<line x1="441.02" y1="197.94" x2="441.02" y2="196.2" stroke="#0000ff" stroke-width="0.9"/>
<line x1="439.22" y1="196.2" x2="442.82" y2="196.2" stroke="#0000ff" stroke-width="0.9"/>
<circle cx="441.02" cy="197.94" r="1.8" fill="#0000ff"/>
<line x1="456.65" y1="188.23" x2="456.65" y2="185.81" stroke="#0000ff" stroke-width="0.9"/>
<line x1="454.85" y1="185.81" x2="458.45" y2="185.81" stroke="#0000ff" stroke-width="0.9"/>
<circle cx="456.65" cy="188.23" r="1.8" fill="#0000ff"/>
<line x1="487.91" y1="173.09" x2="487.91" y2="170.74" stroke="#0000ff" stroke-width="0.9"/>
<line x1="486.11" y1="170.74" x2="489.71" y2="170.74" stroke="#0000ff" stroke-width="0.9"/>
<circle cx="487.91" cy="173.09" r="1.8" fill="#0000ff"/>
<rect x="376.7" y="202.04" width="3.6" height="3.6" rx="0.7" fill="#ff0000"/>
<line x1="388.92" y1="203.57" x2="388.92" y2="202.56" stroke="#ff0000" stroke-width="0.9"/>
<line x1="387.12" y1="202.56" x2="390.72" y2="202.56" stroke="#ff0000" stroke-width="0.9"/>
<rect x="387.12" y="201.77" width="3.6" height="3.6" rx="0.7" fill="#ff0000"/>
<rect x="402.75" y="204.78" width="3.6" height="3.6" rx="0.7" fill="#ff0000"/>
<line x1="420.18" y1="204.44" x2="420.18" y2="203.57" stroke="#ff0000" stroke-width="0.9"/>
<line x1="418.38" y1="203.57" x2="421.98" y2="203.57" stroke="#ff0000" stroke-width="0.9"/>
<rect x="418.38" y="202.64" width="3.6" height="3.6" rx="0.7" fill="#ff0000"/>
<rect x="439.22" y="205.12" width="3.6" height="3.6" rx="0.7" fill="#ff0000"/>
<rect x="454.85" y="205.52" width="3.6" height="3.6" rx="0.7" fill="#ff0000"/>
<rect x="486.11" y="205.86" width="3.6" height="3.6" rx="0.7" fill="#ff0000"/>
<path d="M376.7 202.04L380.3 205.64M376.7 205.64L380.3 202.04" stroke="#111" stroke-width="1" fill="none"/>
<line x1="388.92" y1="201.02" x2="388.92" y2="199.89" stroke="#111" stroke-width="0.9"/>
<line x1="387.12" y1="199.89" x2="390.72" y2="199.89" stroke="#111" stroke-width="0.9"/>
<path d="M387.12 199.22L390.72 202.82M387.12 202.82L390.72 199.22" stroke="#111" stroke-width="1" fill="none"/>
<line x1="404.55" y1="199.28" x2="404.55" y2="197.41" stroke="#111" stroke-width="0.9"/>
<line x1="402.75" y1="197.41" x2="406.35" y2="197.41" stroke="#111" stroke-width="0.9"/>
<path d="M402.75 197.48L406.35 201.08M402.75 201.08L406.35 197.48" stroke="#111" stroke-width="1" fill="none"/>
<line x1="420.18" y1="194.39" x2="420.18" y2="190.84" stroke="#111" stroke-width="0.9"/>
<line x1="418.38" y1="190.84" x2="421.98" y2="190.84" stroke="#111" stroke-width="0.9"/>
<path d="M418.38 192.59L421.98 196.19M418.38 196.19L421.98 192.59" stroke="#111" stroke-width="1" fill="none"/>
<line x1="441.02" y1="183.54" x2="441.02" y2="179.79" stroke="#111" stroke-width="0.9"/>
<line x1="439.22" y1="179.79" x2="442.82" y2="179.79" stroke="#111" stroke-width="0.9"/>
<path d="M439.22 181.74L442.82 185.34M439.22 185.34L442.82 181.74" stroke="#111" stroke-width="1" fill="none"/>
<line x1="456.65" y1="170.07" x2="456.65" y2="166.52" stroke="#111" stroke-width="0.9"/>
<line x1="454.85" y1="166.52" x2="458.45" y2="166.52" stroke="#111" stroke-width="0.9"/>
<path d="M454.85 168.27L458.45 171.87M454.85 171.87L458.45 168.27" stroke="#111" stroke-width="1" fill="none"/>
<line x1="487.91" y1="149.3" x2="487.91" y2="139.25" stroke="#111" stroke-width="0.9"/>
<line x1="486.11" y1="139.25" x2="489.71" y2="139.25" stroke="#111" stroke-width="0.9"/>
<path d="M486.11 147.5L489.71 151.1M486.11 151.1L489.71 147.5" stroke="#111" stroke-width="1" fill="none"/>
<text x="497.3" y="166.7" font-size="6.4" fill="#10c010" stroke="#10c010" stroke-width="0.12">33%<tspan font-size="6.3" letter-spacing="0.5"></tspan></text>
<text x="497.3" y="174.2" font-size="6.4" fill="#0000ff" stroke="#0000ff" stroke-width="0.12">42%<tspan font-size="6.3" letter-spacing="0.5">*</tspan></text>
<text x="494.3" y="209.8" font-size="6.4" fill="#ff0000" stroke="#ff0000" stroke-width="0.12">106%<tspan font-size="6.3" letter-spacing="0.5">***</tspan></text>
<line x1="32.5" y1="271.1" x2="32.5" y2="354.1" stroke="#222" stroke-width="1"/>
<line x1="29.9" y1="351.9" x2="153.1" y2="351.9" stroke="#222" stroke-width="1"/>
<line x1="29.9" y1="351.9" x2="32.5" y2="351.9" stroke="#222" stroke-width="0.9"/>
<text x="28.6" y="354.2" font-size="6.5" stroke="#000" stroke-width="0.28" text-anchor="end" fill="#000">0</text>
<line x1="29.9" y1="338.43" x2="32.5" y2="338.43" stroke="#222" stroke-width="0.9"/>
<text x="28.6" y="340.73" font-size="6.5" stroke="#000" stroke-width="0.28" text-anchor="end" fill="#000">200</text>
<line x1="29.9" y1="324.97" x2="32.5" y2="324.97" stroke="#222" stroke-width="0.9"/>
<text x="28.6" y="327.27" font-size="6.5" stroke="#000" stroke-width="0.28" text-anchor="end" fill="#000">400</text>
<line x1="29.9" y1="311.5" x2="32.5" y2="311.5" stroke="#222" stroke-width="0.9"/>
<text x="28.6" y="313.8" font-size="6.5" stroke="#000" stroke-width="0.28" text-anchor="end" fill="#000">600</text>
<line x1="29.9" y1="298.03" x2="32.5" y2="298.03" stroke="#222" stroke-width="0.9"/>
<text x="28.6" y="300.33" font-size="6.5" stroke="#000" stroke-width="0.28" text-anchor="end" fill="#000">800</text>
<line x1="29.9" y1="284.57" x2="32.5" y2="284.57" stroke="#222" stroke-width="0.9"/>
<text x="28.6" y="286.87" font-size="6.5" stroke="#000" stroke-width="0.28" text-anchor="end" fill="#000">1,000</text>
<line x1="29.9" y1="271.1" x2="32.5" y2="271.1" stroke="#222" stroke-width="0.9"/>
<text x="28.6" y="273.4" font-size="6.5" stroke="#000" stroke-width="0.28" text-anchor="end" fill="#000">1,200</text>
<line x1="32.5" y1="351.9" x2="32.5" y2="354.1" stroke="#222" stroke-width="0.9"/>
<text x="32.5" y="361.9" font-size="6.5" font-weight="bold" stroke="#000" stroke-width="0.15" text-anchor="middle" fill="#000">1</text>
<line x1="42.92" y1="351.9" x2="42.92" y2="354.1" stroke="#222" stroke-width="0.9"/>
<text x="42.92" y="361.9" font-size="6.5" font-weight="bold" stroke="#000" stroke-width="0.15" text-anchor="middle" fill="#000">3</text>
<line x1="68.97" y1="351.9" x2="68.97" y2="354.1" stroke="#222" stroke-width="0.9"/>
<text x="68.97" y="361.9" font-size="6.5" font-weight="bold" stroke="#000" stroke-width="0.15" text-anchor="middle" fill="#000">8</text>
<line x1="84.6" y1="351.9" x2="84.6" y2="354.1" stroke="#222" stroke-width="0.9"/>
<text x="84.6" y="361.9" font-size="6.5" font-weight="bold" stroke="#000" stroke-width="0.15" text-anchor="middle" fill="#000">11</text>
<line x1="110.65" y1="351.9" x2="110.65" y2="354.1" stroke="#222" stroke-width="0.9"/>
<text x="110.65" y="361.9" font-size="6.5" font-weight="bold" stroke="#000" stroke-width="0.15" text-anchor="middle" fill="#000">16</text>
<line x1="121.07" y1="351.9" x2="121.07" y2="354.1" stroke="#222" stroke-width="0.9"/>
<text x="121.07" y="361.9" font-size="6.5" font-weight="bold" stroke="#000" stroke-width="0.15" text-anchor="middle" fill="#000">18</text>
<line x1="141.91" y1="351.9" x2="141.91" y2="354.1" stroke="#222" stroke-width="0.9"/>
<text x="141.91" y="361.9" font-size="6.5" font-weight="bold" stroke="#000" stroke-width="0.15" text-anchor="middle" fill="#000">22</text>
<text x="58.1" y="369.5" font-size="6.6" font-weight="bold" stroke="#000" stroke-width="0.15" fill="#000">Days after treatment</text>
<text transform="translate(9.3 314) rotate(-90)" font-size="6.5" font-weight="bold" stroke="#000" stroke-width="0.15" text-anchor="middle" fill="#000">Tumor volume (mm³)</text>
<text x="92.4" y="262.4" font-size="7.7" font-weight="bold" stroke="#000" stroke-width="0.15" text-anchor="middle" fill="#000">HCC827</text>
<text x="5.8" y="261.9" font-size="10.6" font-weight="bold" stroke="#000" stroke-width="0.15" fill="#000">D</text>
<text x="155.6" y="279" font-size="6.5" stroke="#111" stroke-width="0.28" fill="#111">TGI</text>
<polyline points="32.5,337.49 42.92,329.41 68.97,330.29 84.6,336.28 110.65,337.22 121.07,336.95 141.91,337.89" fill="none" stroke="#3d8ef5" stroke-width="1.05" stroke-linejoin="round"/>
<polyline points="32.5,337.76 42.92,339.11 68.97,336.95 84.6,334.26 110.65,337.36 121.07,339.11 141.91,339.91" fill="none" stroke="#10c010" stroke-width="1.05" stroke-linejoin="round"/>
<polyline points="32.5,337.49 42.92,338.5 68.97,336.35 84.6,338.1 110.65,337.49 121.07,339.51 141.91,341.13" fill="none" stroke="#f23ad4" stroke-width="1.05" stroke-linejoin="round"/>
<polyline points="32.5,336.75 42.92,329.41 68.97,324.29 84.6,316.21 110.65,310.22 121.07,296.89 141.91,285.51" fill="none" stroke="#111" stroke-width="1.05" stroke-linejoin="round"/>
<circle cx="32.5" cy="337.49" r="1.8" fill="#3d8ef5"/>
<line x1="42.92" y1="329.41" x2="42.92" y2="327.32" stroke="#3d8ef5" stroke-width="0.9"/>
<line x1="41.12" y1="327.32" x2="44.72" y2="327.32" stroke="#3d8ef5" stroke-width="0.9"/>
<circle cx="42.92" cy="329.41" r="1.8" fill="#3d8ef5"/>
<line x1="68.97" y1="330.29" x2="68.97" y2="329.01" stroke="#3d8ef5" stroke-width="0.9"/>
<line x1="67.17" y1="329.01" x2="70.77" y2="329.01" stroke="#3d8ef5" stroke-width="0.9"/>
<circle cx="68.97" cy="330.29" r="1.8" fill="#3d8ef5"/>
<line x1="84.6" y1="336.28" x2="84.6" y2="335.07" stroke="#3d8ef5" stroke-width="0.9"/>
<line x1="82.8" y1="335.07" x2="86.4" y2="335.07" stroke="#3d8ef5" stroke-width="0.9"/>
<circle cx="84.6" cy="336.28" r="1.8" fill="#3d8ef5"/>
<line x1="110.65" y1="337.22" x2="110.65" y2="336.28" stroke="#3d8ef5" stroke-width="0.9"/>
<line x1="108.85" y1="336.28" x2="112.45" y2="336.28" stroke="#3d8ef5" stroke-width="0.9"/>
<circle cx="110.65" cy="337.22" r="1.8" fill="#3d8ef5"/>
<line x1="121.07" y1="336.95" x2="121.07" y2="334.39" stroke="#3d8ef5" stroke-width="0.9"/>
<line x1="119.27" y1="334.39" x2="122.87" y2="334.39" stroke="#3d8ef5" stroke-width="0.9"/>
<circle cx="121.07" cy="336.95" r="1.8" fill="#3d8ef5"/>
<line x1="141.91" y1="337.89" x2="141.91" y2="335.74" stroke="#3d8ef5" stroke-width="0.9"/>
<line x1="140.11" y1="335.74" x2="143.71" y2="335.74" stroke="#3d8ef5" stroke-width="0.9"/>
<circle cx="141.91" cy="337.89" r="1.8" fill="#3d8ef5"/>
<path d="M30.7 336.06L34.3 336.06L32.5 339.46Z" fill="#10c010"/>
<path d="M41.12 337.41L44.72 337.41L42.92 340.81Z" fill="#10c010"/>
<path d="M67.17 335.25L70.77 335.25L68.97 338.65Z" fill="#10c010"/>
<line x1="84.6" y1="334.26" x2="84.6" y2="333.59" stroke="#10c010" stroke-width="0.9"/>
<line x1="82.8" y1="333.59" x2="86.4" y2="333.59" stroke="#10c010" stroke-width="0.9"/>
<path d="M82.8 332.56L86.4 332.56L84.6 335.96Z" fill="#10c010"/>
<line x1="110.65" y1="337.36" x2="110.65" y2="335.87" stroke="#10c010" stroke-width="0.9"/>
<line x1="108.85" y1="335.87" x2="112.45" y2="335.87" stroke="#10c010" stroke-width="0.9"/>
<path d="M108.85 335.66L112.45 335.66L110.65 339.06Z" fill="#10c010"/>
<path d="M119.27 337.41L122.87 337.41L121.07 340.81Z" fill="#10c010"/>
<path d="M140.11 338.21L143.71 338.21L141.91 341.61Z" fill="#10c010"/>
<rect x="30.7" y="335.69" width="3.6" height="3.6" rx="0.7" fill="#f23ad4"/>
<rect x="41.12" y="336.7" width="3.6" height="3.6" rx="0.7" fill="#f23ad4"/>
<rect x="67.17" y="334.55" width="3.6" height="3.6" rx="0.7" fill="#f23ad4"/>
<line x1="84.6" y1="338.1" x2="84.6" y2="336.55" stroke="#f23ad4" stroke-width="0.9"/>
<line x1="82.8" y1="336.55" x2="86.4" y2="336.55" stroke="#f23ad4" stroke-width="0.9"/>
<rect x="82.8" y="336.3" width="3.6" height="3.6" rx="0.7" fill="#f23ad4"/>
<line x1="110.65" y1="337.49" x2="110.65" y2="336.75" stroke="#f23ad4" stroke-width="0.9"/>
<line x1="108.85" y1="336.75" x2="112.45" y2="336.75" stroke="#f23ad4" stroke-width="0.9"/>
<rect x="108.85" y="335.69" width="3.6" height="3.6" rx="0.7" fill="#f23ad4"/>
<line x1="121.07" y1="339.51" x2="121.07" y2="338.43" stroke="#f23ad4" stroke-width="0.9"/>
<line x1="119.27" y1="338.43" x2="122.87" y2="338.43" stroke="#f23ad4" stroke-width="0.9"/>
<rect x="119.27" y="337.71" width="3.6" height="3.6" rx="0.7" fill="#f23ad4"/>
<line x1="141.91" y1="341.13" x2="141.91" y2="339.78" stroke="#f23ad4" stroke-width="0.9"/>
<line x1="140.11" y1="339.78" x2="143.71" y2="339.78" stroke="#f23ad4" stroke-width="0.9"/>
<rect x="140.11" y="339.33" width="3.6" height="3.6" rx="0.7" fill="#f23ad4"/>
<path d="M30.7 334.95L34.3 338.55M30.7 338.55L34.3 334.95" stroke="#111" stroke-width="1" fill="none"/>
<line x1="42.92" y1="329.41" x2="42.92" y2="326.99" stroke="#111" stroke-width="0.9"/>
<line x1="41.12" y1="326.99" x2="44.72" y2="326.99" stroke="#111" stroke-width="0.9"/>
<path d="M41.12 327.61L44.72 331.21M41.12 331.21L44.72 327.61" stroke="#111" stroke-width="1" fill="none"/>
<line x1="68.97" y1="324.29" x2="68.97" y2="320.25" stroke="#111" stroke-width="0.9"/>
<line x1="67.17" y1="320.25" x2="70.77" y2="320.25" stroke="#111" stroke-width="0.9"/>
<path d="M67.17 322.49L70.77 326.09M67.17 326.09L70.77 322.49" stroke="#111" stroke-width="1" fill="none"/>
<line x1="84.6" y1="316.21" x2="84.6" y2="310.56" stroke="#111" stroke-width="0.9"/>
<line x1="82.8" y1="310.56" x2="86.4" y2="310.56" stroke="#111" stroke-width="0.9"/>
<path d="M82.8 314.41L86.4 318.01M82.8 318.01L86.4 314.41" stroke="#111" stroke-width="1" fill="none"/>
<line x1="110.65" y1="310.22" x2="110.65" y2="303.96" stroke="#111" stroke-width="0.9"/>
<line x1="108.85" y1="303.96" x2="112.45" y2="303.96" stroke="#111" stroke-width="0.9"/>
<path d="M108.85 308.42L112.45 312.02M108.85 312.02L112.45 308.42" stroke="#111" stroke-width="1" fill="none"/>
<line x1="121.07" y1="296.89" x2="121.07" y2="289.75" stroke="#111" stroke-width="0.9"/>
<line x1="119.27" y1="289.75" x2="122.87" y2="289.75" stroke="#111" stroke-width="0.9"/>
<path d="M119.27 295.09L122.87 298.69M119.27 298.69L122.87 295.09" stroke="#111" stroke-width="1" fill="none"/>
<line x1="141.91" y1="285.51" x2="141.91" y2="275.14" stroke="#111" stroke-width="0.9"/>
<line x1="140.11" y1="275.14" x2="143.71" y2="275.14" stroke="#111" stroke-width="0.9"/>
<path d="M140.11 283.71L143.71 287.31M140.11 287.31L143.71 283.71" stroke="#111" stroke-width="1" fill="none"/>
<text x="152.9" y="336.2" font-size="6.4" fill="#3d8ef5" stroke="#3d8ef5" stroke-width="0.12">102%<tspan font-size="6.3" letter-spacing="0.5">***</tspan></text>
<text x="152.9" y="342.3" font-size="6.4" fill="#10c010" stroke="#10c010" stroke-width="0.12">106%<tspan font-size="6.3" letter-spacing="0.5">***</tspan></text>
<text x="152.9" y="348.1" font-size="6.4" fill="#f23ad4" stroke="#f23ad4" stroke-width="0.12">107%<tspan font-size="6.3" letter-spacing="0.5">***</tspan></text>
<line x1="207" y1="271.5" x2="207" y2="354.3" stroke="#222" stroke-width="1"/>
<line x1="204.4" y1="352.1" x2="328.1" y2="352.1" stroke="#222" stroke-width="1"/>
<line x1="204.4" y1="352.1" x2="207" y2="352.1" stroke="#222" stroke-width="0.9"/>
<text x="203.1" y="354.4" font-size="6.5" stroke="#000" stroke-width="0.28" text-anchor="end" fill="#000">0</text>
<line x1="204.4" y1="343.14" x2="207" y2="343.14" stroke="#222" stroke-width="0.9"/>
<text x="203.1" y="345.44" font-size="6.5" stroke="#000" stroke-width="0.28" text-anchor="end" fill="#000">200</text>
<line x1="204.4" y1="334.19" x2="207" y2="334.19" stroke="#222" stroke-width="0.9"/>
<text x="203.1" y="336.49" font-size="6.5" stroke="#000" stroke-width="0.28" text-anchor="end" fill="#000">400</text>
<line x1="204.4" y1="325.23" x2="207" y2="325.23" stroke="#222" stroke-width="0.9"/>
<text x="203.1" y="327.53" font-size="6.5" stroke="#000" stroke-width="0.28" text-anchor="end" fill="#000">600</text>
<line x1="204.4" y1="316.28" x2="207" y2="316.28" stroke="#222" stroke-width="0.9"/>
<text x="203.1" y="318.58" font-size="6.5" stroke="#000" stroke-width="0.28" text-anchor="end" fill="#000">800</text>
<line x1="204.4" y1="307.32" x2="207" y2="307.32" stroke="#222" stroke-width="0.9"/>
<text x="203.1" y="309.62" font-size="6.5" stroke="#000" stroke-width="0.28" text-anchor="end" fill="#000">1,000</text>
<line x1="204.4" y1="298.37" x2="207" y2="298.37" stroke="#222" stroke-width="0.9"/>
<text x="203.1" y="300.67" font-size="6.5" stroke="#000" stroke-width="0.28" text-anchor="end" fill="#000">1,200</text>
<line x1="204.4" y1="289.41" x2="207" y2="289.41" stroke="#222" stroke-width="0.9"/>
<text x="203.1" y="291.71" font-size="6.5" stroke="#000" stroke-width="0.28" text-anchor="end" fill="#000">1,400</text>
<line x1="204.4" y1="280.46" x2="207" y2="280.46" stroke="#222" stroke-width="0.9"/>
<text x="203.1" y="282.76" font-size="6.5" stroke="#000" stroke-width="0.28" text-anchor="end" fill="#000">1,600</text>
<line x1="204.4" y1="271.5" x2="207" y2="271.5" stroke="#222" stroke-width="0.9"/>
<text x="203.1" y="273.8" font-size="6.5" stroke="#000" stroke-width="0.28" text-anchor="end" fill="#000">1,800</text>
<line x1="207" y1="352.1" x2="207" y2="354.3" stroke="#222" stroke-width="0.9"/>
<text x="207" y="362.1" font-size="6.5" font-weight="bold" stroke="#000" stroke-width="0.15" text-anchor="middle" fill="#000">1</text>
<line x1="227.84" y1="352.1" x2="227.84" y2="354.3" stroke="#222" stroke-width="0.9"/>
<text x="227.84" y="362.1" font-size="6.5" font-weight="bold" stroke="#000" stroke-width="0.15" text-anchor="middle" fill="#000">5</text>
<line x1="243.47" y1="352.1" x2="243.47" y2="354.3" stroke="#222" stroke-width="0.9"/>
<text x="243.47" y="362.1" font-size="6.5" font-weight="bold" stroke="#000" stroke-width="0.15" text-anchor="middle" fill="#000">8</text>
<line x1="264.31" y1="352.1" x2="264.31" y2="354.3" stroke="#222" stroke-width="0.9"/>
<text x="264.31" y="362.1" font-size="6.5" font-weight="bold" stroke="#000" stroke-width="0.15" text-anchor="middle" fill="#000">12</text>
<line x1="279.94" y1="352.1" x2="279.94" y2="354.3" stroke="#222" stroke-width="0.9"/>
<text x="279.94" y="362.1" font-size="6.5" font-weight="bold" stroke="#000" stroke-width="0.15" text-anchor="middle" fill="#000">15</text>
<line x1="300.78" y1="352.1" x2="300.78" y2="354.3" stroke="#222" stroke-width="0.9"/>
<text x="300.78" y="362.1" font-size="6.5" font-weight="bold" stroke="#000" stroke-width="0.15" text-anchor="middle" fill="#000">19</text>
<line x1="316.41" y1="352.1" x2="316.41" y2="354.3" stroke="#222" stroke-width="0.9"/>
<text x="316.41" y="362.1" font-size="6.5" font-weight="bold" stroke="#000" stroke-width="0.15" text-anchor="middle" fill="#000">22</text>
<text x="232.3" y="369.7" font-size="6.6" font-weight="bold" stroke="#000" stroke-width="0.15" fill="#000">Days after treatment</text>
<text transform="translate(184.4 314) rotate(-90)" font-size="6.5" font-weight="bold" stroke="#000" stroke-width="0.15" text-anchor="middle" fill="#000">Tumor volume (mm³)</text>
<text x="266.6" y="262.4" font-size="7.7" font-weight="bold" stroke="#000" stroke-width="0.15" text-anchor="middle" fill="#000">HCC827/ABCB1</text>
<text x="181.5" y="262.1" font-size="10.6" font-weight="bold" stroke="#000" stroke-width="0.15" fill="#000">F</text>
<text x="327.5" y="275" font-size="6.5" stroke="#111" stroke-width="0.28" fill="#111">TGI</text>
<polyline points="207,344.8 227.84,340.64 243.47,339.07 264.31,338.08 279.94,333.07 300.78,324.7 316.41,311.89" fill="none" stroke="#3d8ef5" stroke-width="1.05" stroke-linejoin="round"/>
<polyline points="207,344.8 227.84,340.64 243.47,339.79 264.31,340.28 279.94,340.28 300.78,338.98 316.41,336.29" fill="none" stroke="#10c010" stroke-width="1.05" stroke-linejoin="round"/>
<polyline points="207,344.8 227.84,341.89 243.47,341.35 264.31,342.52 279.94,340.28 300.78,336.07 316.41,328.91" fill="none" stroke="#f23ad4" stroke-width="1.05" stroke-linejoin="round"/>
<polyline points="207,344.8 227.84,337.77 243.47,329.04 264.31,314.71 279.94,306.83 300.78,297.25 316.41,281.35" fill="none" stroke="#111" stroke-width="1.05" stroke-linejoin="round"/>
<circle cx="207" cy="344.8" r="1.8" fill="#3d8ef5"/>
<circle cx="227.84" cy="340.64" r="1.8" fill="#3d8ef5"/>
<circle cx="243.47" cy="339.07" r="1.8" fill="#3d8ef5"/>
<circle cx="264.31" cy="338.08" r="1.8" fill="#3d8ef5"/>
<circle cx="279.94" cy="333.07" r="1.8" fill="#3d8ef5"/>
<line x1="300.78" y1="324.7" x2="300.78" y2="322.99" stroke="#3d8ef5" stroke-width="0.9"/>
<line x1="298.98" y1="322.99" x2="302.58" y2="322.99" stroke="#3d8ef5" stroke-width="0.9"/>
<circle cx="300.78" cy="324.7" r="1.8" fill="#3d8ef5"/>
<line x1="316.41" y1="311.89" x2="316.41" y2="308.13" stroke="#3d8ef5" stroke-width="0.9"/>
<line x1="314.61" y1="308.13" x2="318.21" y2="308.13" stroke="#3d8ef5" stroke-width="0.9"/>
<circle cx="316.41" cy="311.89" r="1.8" fill="#3d8ef5"/>
<path d="M205.2 343.1L208.8 343.1L207 346.5Z" fill="#10c010"/>
<path d="M226.04 338.94L229.64 338.94L227.84 342.34Z" fill="#10c010"/>
<path d="M241.67 338.09L245.27 338.09L243.47 341.49Z" fill="#10c010"/>
<path d="M262.51 338.58L266.11 338.58L264.31 341.98Z" fill="#10c010"/>
<path d="M278.14 338.58L281.74 338.58L279.94 341.98Z" fill="#10c010"/>
<path d="M298.98 337.28L302.58 337.28L300.78 340.68Z" fill="#10c010"/>
<path d="M314.61 334.59L318.21 334.59L316.41 337.99Z" fill="#10c010"/>
<rect x="205.2" y="343" width="3.6" height="3.6" rx="0.7" fill="#f23ad4"/>
<rect x="226.04" y="340.09" width="3.6" height="3.6" rx="0.7" fill="#f23ad4"/>
<rect x="241.67" y="339.55" width="3.6" height="3.6" rx="0.7" fill="#f23ad4"/>
<rect x="262.51" y="340.72" width="3.6" height="3.6" rx="0.7" fill="#f23ad4"/>
<rect x="278.14" y="338.48" width="3.6" height="3.6" rx="0.7" fill="#f23ad4"/>
<line x1="300.78" y1="336.07" x2="300.78" y2="333.56" stroke="#f23ad4" stroke-width="0.9"/>
<line x1="298.98" y1="333.56" x2="302.58" y2="333.56" stroke="#f23ad4" stroke-width="0.9"/>
<rect x="298.98" y="334.27" width="3.6" height="3.6" rx="0.7" fill="#f23ad4"/>
<line x1="316.41" y1="328.91" x2="316.41" y2="325.05" stroke="#f23ad4" stroke-width="0.9"/>
<line x1="314.61" y1="325.05" x2="318.21" y2="325.05" stroke="#f23ad4" stroke-width="0.9"/>
<rect x="314.61" y="327.11" width="3.6" height="3.6" rx="0.7" fill="#f23ad4"/>
<path d="M205.2 343L208.8 346.6M205.2 346.6L208.8 343" stroke="#111" stroke-width="1" fill="none"/>
<line x1="227.84" y1="337.77" x2="227.84" y2="336.88" stroke="#111" stroke-width="0.9"/>
<line x1="226.04" y1="336.88" x2="229.64" y2="336.88" stroke="#111" stroke-width="0.9"/>
<path d="M226.04 335.97L229.64 339.57M226.04 339.57L229.64 335.97" stroke="#111" stroke-width="1" fill="none"/>
<line x1="243.47" y1="329.04" x2="243.47" y2="327.02" stroke="#111" stroke-width="0.9"/>
<line x1="241.67" y1="327.02" x2="245.27" y2="327.02" stroke="#111" stroke-width="0.9"/>
<path d="M241.67 327.24L245.27 330.84M241.67 330.84L245.27 327.24" stroke="#111" stroke-width="1" fill="none"/>
<line x1="264.31" y1="314.71" x2="264.31" y2="309.34" stroke="#111" stroke-width="0.9"/>
<line x1="262.51" y1="309.34" x2="266.11" y2="309.34" stroke="#111" stroke-width="0.9"/>
<path d="M262.51 312.91L266.11 316.51M262.51 316.51L266.11 312.91" stroke="#111" stroke-width="1" fill="none"/>
<line x1="279.94" y1="306.83" x2="279.94" y2="302.4" stroke="#111" stroke-width="0.9"/>
<line x1="278.14" y1="302.4" x2="281.74" y2="302.4" stroke="#111" stroke-width="0.9"/>
<path d="M278.14 305.03L281.74 308.63M278.14 308.63L281.74 305.03" stroke="#111" stroke-width="1" fill="none"/>
<line x1="300.78" y1="297.25" x2="300.78" y2="291.65" stroke="#111" stroke-width="0.9"/>
<line x1="298.98" y1="291.65" x2="302.58" y2="291.65" stroke="#111" stroke-width="0.9"/>
<path d="M298.98 295.45L302.58 299.05M298.98 299.05L302.58 295.45" stroke="#111" stroke-width="1" fill="none"/>
<line x1="316.41" y1="281.35" x2="316.41" y2="274.63" stroke="#111" stroke-width="0.9"/>
<line x1="314.61" y1="274.63" x2="318.21" y2="274.63" stroke="#111" stroke-width="0.9"/>
<path d="M314.61 279.55L318.21 283.15M314.61 283.15L318.21 279.55" stroke="#111" stroke-width="1" fill="none"/>
<text x="327.1" y="312.1" font-size="6.4" fill="#3d8ef5" stroke="#3d8ef5" stroke-width="0.12">48%<tspan font-size="6.3" letter-spacing="0.5">**</tspan></text>
<text x="327.1" y="330" font-size="6.4" fill="#f23ad4" stroke="#f23ad4" stroke-width="0.12">75%<tspan font-size="6.3" letter-spacing="0.5">***</tspan></text>
<text x="327.3" y="338.8" font-size="6.4" fill="#10c010" stroke="#10c010" stroke-width="0.12">88%<tspan font-size="6.3" letter-spacing="0.5">***</tspan></text>
<line x1="379.2" y1="272.2" x2="379.2" y2="354.6" stroke="#222" stroke-width="1"/>
<line x1="376.6" y1="352.4" x2="499.5" y2="352.4" stroke="#222" stroke-width="1"/>
<line x1="376.6" y1="352.4" x2="379.2" y2="352.4" stroke="#222" stroke-width="0.9"/>
<text x="375.3" y="354.7" font-size="6.5" stroke="#000" stroke-width="0.28" text-anchor="end" fill="#000">0</text>
<line x1="376.6" y1="339.03" x2="379.2" y2="339.03" stroke="#222" stroke-width="0.9"/>
<text x="375.3" y="341.33" font-size="6.5" stroke="#000" stroke-width="0.28" text-anchor="end" fill="#000">200</text>
<line x1="376.6" y1="325.67" x2="379.2" y2="325.67" stroke="#222" stroke-width="0.9"/>
<text x="375.3" y="327.97" font-size="6.5" stroke="#000" stroke-width="0.28" text-anchor="end" fill="#000">400</text>
<line x1="376.6" y1="312.3" x2="379.2" y2="312.3" stroke="#222" stroke-width="0.9"/>
<text x="375.3" y="314.6" font-size="6.5" stroke="#000" stroke-width="0.28" text-anchor="end" fill="#000">600</text>
<line x1="376.6" y1="298.93" x2="379.2" y2="298.93" stroke="#222" stroke-width="0.9"/>
<text x="375.3" y="301.23" font-size="6.5" stroke="#000" stroke-width="0.28" text-anchor="end" fill="#000">800</text>
<line x1="376.6" y1="285.57" x2="379.2" y2="285.57" stroke="#222" stroke-width="0.9"/>
<text x="375.3" y="287.87" font-size="6.5" stroke="#000" stroke-width="0.28" text-anchor="end" fill="#000">1,000</text>
<line x1="376.6" y1="272.2" x2="379.2" y2="272.2" stroke="#222" stroke-width="0.9"/>
<text x="375.3" y="274.5" font-size="6.5" stroke="#000" stroke-width="0.28" text-anchor="end" fill="#000">1,200</text>
<line x1="379.2" y1="352.4" x2="379.2" y2="354.6" stroke="#222" stroke-width="0.9"/>
<text x="379.2" y="362.4" font-size="6.5" font-weight="bold" stroke="#000" stroke-width="0.15" text-anchor="middle" fill="#000">1</text>
<line x1="389.62" y1="352.4" x2="389.62" y2="354.6" stroke="#222" stroke-width="0.9"/>
<text x="389.62" y="362.4" font-size="6.5" font-weight="bold" stroke="#000" stroke-width="0.15" text-anchor="middle" fill="#000">3</text>
<line x1="405.25" y1="352.4" x2="405.25" y2="354.6" stroke="#222" stroke-width="0.9"/>
<text x="405.25" y="362.4" font-size="6.5" font-weight="bold" stroke="#000" stroke-width="0.15" text-anchor="middle" fill="#000">6</text>
<line x1="420.88" y1="352.4" x2="420.88" y2="354.6" stroke="#222" stroke-width="0.9"/>
<text x="420.88" y="362.4" font-size="6.5" font-weight="bold" stroke="#000" stroke-width="0.15" text-anchor="middle" fill="#000">9</text>
<line x1="441.72" y1="352.4" x2="441.72" y2="354.6" stroke="#222" stroke-width="0.9"/>
<text x="441.72" y="362.4" font-size="6.5" font-weight="bold" stroke="#000" stroke-width="0.15" text-anchor="middle" fill="#000">13</text>
<line x1="457.35" y1="352.4" x2="457.35" y2="354.6" stroke="#222" stroke-width="0.9"/>
<text x="457.35" y="362.4" font-size="6.5" font-weight="bold" stroke="#000" stroke-width="0.15" text-anchor="middle" fill="#000">16</text>
<line x1="488.61" y1="352.4" x2="488.61" y2="354.6" stroke="#222" stroke-width="0.9"/>
<text x="488.61" y="362.4" font-size="6.5" font-weight="bold" stroke="#000" stroke-width="0.15" text-anchor="middle" fill="#000">22</text>
<text x="404" y="370" font-size="6.6" font-weight="bold" stroke="#000" stroke-width="0.15" fill="#000">Days after treatment</text>
<text transform="translate(355.8 314) rotate(-90)" font-size="6.5" font-weight="bold" stroke="#000" stroke-width="0.15" text-anchor="middle" fill="#000">Tumor volume (mm³)</text>
<text x="438.6" y="262.4" font-size="7.7" font-weight="bold" stroke="#000" stroke-width="0.15" text-anchor="middle" fill="#000">HCC827/ABCG2</text>
<text x="351.4" y="262.1" font-size="10.6" font-weight="bold" stroke="#000" stroke-width="0.15" fill="#000">H</text>
<text x="496.3" y="278.1" font-size="6.5" stroke="#111" stroke-width="0.28" fill="#111">TGI</text>
<polyline points="379.2,339.97 389.62,337.03 405.25,336.96 420.88,330.34 441.72,317.65 457.35,313.84 488.61,307.82" fill="none" stroke="#3d8ef5" stroke-width="1.05" stroke-linejoin="round"/>
<polyline points="379.2,339.97 389.62,338.7 405.25,343.04 420.88,339.57 441.72,333.95 457.35,324.06 488.61,303.48" fill="none" stroke="#10c010" stroke-width="1.05" stroke-linejoin="round"/>
<polyline points="379.2,340.57 389.62,338.7 405.25,339.77 420.88,339.7 441.72,341.04 457.35,337.96 488.61,336.63" fill="none" stroke="#f23ad4" stroke-width="1.05" stroke-linejoin="round"/>
<polyline points="379.2,339.97 389.62,336.56 405.25,335.69 420.88,330.21 441.72,319.92 457.35,306.35 488.61,285.83" fill="none" stroke="#111" stroke-width="1.05" stroke-linejoin="round"/>
<circle cx="379.2" cy="339.97" r="1.8" fill="#3d8ef5"/>
<circle cx="389.62" cy="337.03" r="1.8" fill="#3d8ef5"/>
<circle cx="405.25" cy="336.96" r="1.8" fill="#3d8ef5"/>
<circle cx="420.88" cy="330.34" r="1.8" fill="#3d8ef5"/>
<line x1="441.72" y1="317.65" x2="441.72" y2="310.29" stroke="#3d8ef5" stroke-width="0.9"/>
<line x1="439.92" y1="310.29" x2="443.52" y2="310.29" stroke="#3d8ef5" stroke-width="0.9"/>
<circle cx="441.72" cy="317.65" r="1.8" fill="#3d8ef5"/>
<circle cx="457.35" cy="313.84" r="1.8" fill="#3d8ef5"/>
<circle cx="488.61" cy="307.82" r="1.8" fill="#3d8ef5"/>
<path d="M377.4 338.27L381 338.27L379.2 341.67Z" fill="#10c010"/>
<path d="M387.82 337L391.42 337L389.62 340.4Z" fill="#10c010"/>
<path d="M403.45 341.34L407.05 341.34L405.25 344.74Z" fill="#10c010"/>
<path d="M419.08 337.87L422.68 337.87L420.88 341.27Z" fill="#10c010"/>
<path d="M439.92 332.25L443.52 332.25L441.72 335.65Z" fill="#10c010"/>
<line x1="457.35" y1="324.06" x2="457.35" y2="321.79" stroke="#10c010" stroke-width="0.9"/>
<line x1="455.55" y1="321.79" x2="459.15" y2="321.79" stroke="#10c010" stroke-width="0.9"/>
<path d="M455.55 322.36L459.15 322.36L457.35 325.76Z" fill="#10c010"/>
<line x1="488.61" y1="303.48" x2="488.61" y2="297.6" stroke="#10c010" stroke-width="0.9"/>
<line x1="486.81" y1="297.6" x2="490.41" y2="297.6" stroke="#10c010" stroke-width="0.9"/>
<path d="M486.81 301.78L490.41 301.78L488.61 305.18Z" fill="#10c010"/>
<rect x="377.4" y="338.77" width="3.6" height="3.6" rx="0.7" fill="#f23ad4"/>
<rect x="387.82" y="336.9" width="3.6" height="3.6" rx="0.7" fill="#f23ad4"/>
<rect x="403.45" y="337.97" width="3.6" height="3.6" rx="0.7" fill="#f23ad4"/>
<rect x="419.08" y="337.9" width="3.6" height="3.6" rx="0.7" fill="#f23ad4"/>
<rect x="439.92" y="339.24" width="3.6" height="3.6" rx="0.7" fill="#f23ad4"/>
<line x1="457.35" y1="337.96" x2="457.35" y2="335.42" stroke="#f23ad4" stroke-width="0.9"/>
<line x1="455.55" y1="335.42" x2="459.15" y2="335.42" stroke="#f23ad4" stroke-width="0.9"/>
<rect x="455.55" y="336.16" width="3.6" height="3.6" rx="0.7" fill="#f23ad4"/>
<line x1="488.61" y1="336.63" x2="488.61" y2="333.49" stroke="#f23ad4" stroke-width="0.9"/>
<line x1="486.81" y1="333.49" x2="490.41" y2="333.49" stroke="#f23ad4" stroke-width="0.9"/>
<rect x="486.81" y="334.83" width="3.6" height="3.6" rx="0.7" fill="#f23ad4"/>
<path d="M377.4 338.17L381 341.77M377.4 341.77L381 338.17" stroke="#111" stroke-width="1" fill="none"/>
<line x1="389.62" y1="336.56" x2="389.62" y2="335.02" stroke="#111" stroke-width="0.9"/>
<line x1="387.82" y1="335.02" x2="391.42" y2="335.02" stroke="#111" stroke-width="0.9"/>
<path d="M387.82 334.76L391.42 338.36M387.82 338.36L391.42 334.76" stroke="#111" stroke-width="1" fill="none"/>
<line x1="405.25" y1="335.69" x2="405.25" y2="333.69" stroke="#111" stroke-width="0.9"/>
<line x1="403.45" y1="333.69" x2="407.05" y2="333.69" stroke="#111" stroke-width="0.9"/>
<path d="M403.45 333.89L407.05 337.49M403.45 337.49L407.05 333.89" stroke="#111" stroke-width="1" fill="none"/>
<line x1="420.88" y1="330.21" x2="420.88" y2="327.67" stroke="#111" stroke-width="0.9"/>
<line x1="419.08" y1="327.67" x2="422.68" y2="327.67" stroke="#111" stroke-width="0.9"/>
<path d="M419.08 328.41L422.68 332.01M419.08 332.01L422.68 328.41" stroke="#111" stroke-width="1" fill="none"/>
<line x1="441.72" y1="319.92" x2="441.72" y2="316.31" stroke="#111" stroke-width="0.9"/>
<line x1="439.92" y1="316.31" x2="443.52" y2="316.31" stroke="#111" stroke-width="0.9"/>
<path d="M439.92 318.12L443.52 321.72M439.92 321.72L443.52 318.12" stroke="#111" stroke-width="1" fill="none"/>
<line x1="457.35" y1="306.35" x2="457.35" y2="302.54" stroke="#111" stroke-width="0.9"/>
<line x1="455.55" y1="302.54" x2="459.15" y2="302.54" stroke="#111" stroke-width="0.9"/>
<path d="M455.55 304.55L459.15 308.15M455.55 308.15L459.15 304.55" stroke="#111" stroke-width="1" fill="none"/>
<line x1="488.61" y1="285.83" x2="488.61" y2="275.88" stroke="#111" stroke-width="0.9"/>
<line x1="486.81" y1="275.88" x2="490.41" y2="275.88" stroke="#111" stroke-width="0.9"/>
<path d="M486.81 284.03L490.41 287.63M486.81 287.63L490.41 284.03" stroke="#111" stroke-width="1" fill="none"/>
<text x="496.1" y="302.9" font-size="6.4" fill="#10c010" stroke="#10c010" stroke-width="0.12">33%<tspan font-size="6.3" letter-spacing="0.5"></tspan></text>
<text x="496.1" y="309.5" font-size="6.4" fill="#3d8ef5" stroke="#3d8ef5" stroke-width="0.12">38%<tspan font-size="6.3" letter-spacing="0.5"></tspan></text>
<text x="496.1" y="338.9" font-size="6.4" fill="#f23ad4" stroke="#f23ad4" stroke-width="0.12">92%<tspan font-size="6.3" letter-spacing="0.5">***</tspan></text>
</svg>
</body></html>
